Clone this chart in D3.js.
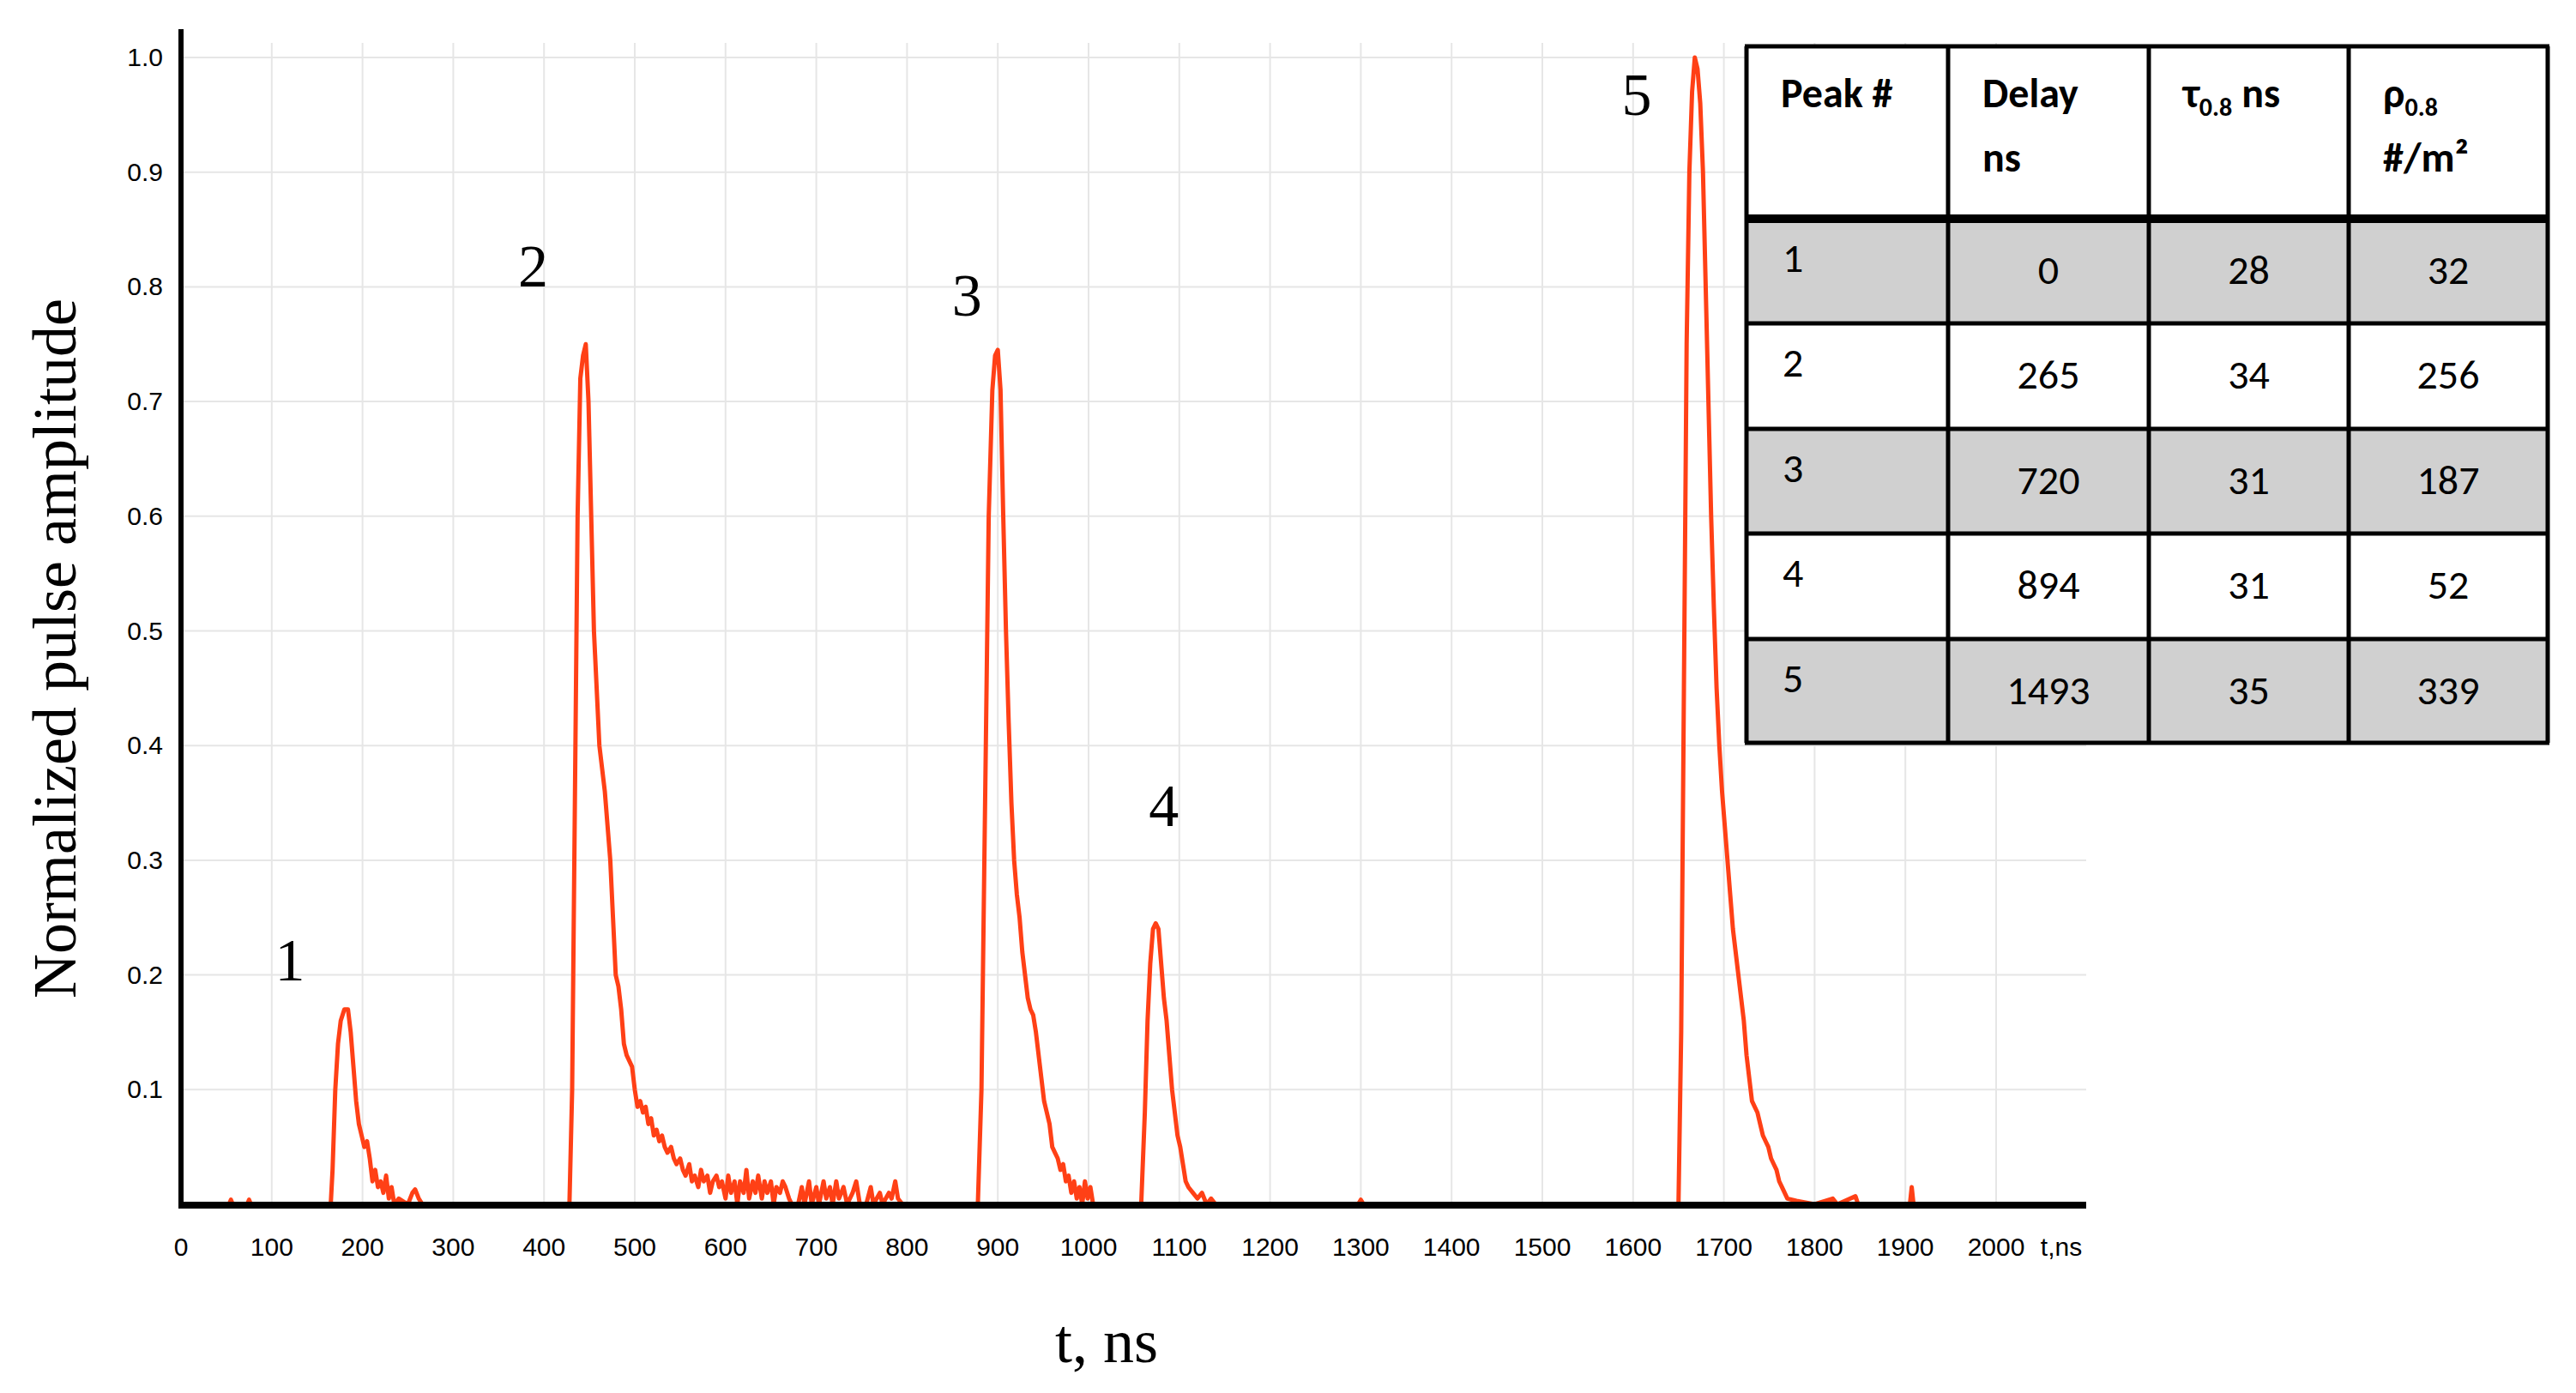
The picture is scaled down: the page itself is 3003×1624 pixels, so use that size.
<!DOCTYPE html>
<html>
<head>
<meta charset="utf-8">
<script src="https://cdn.jsdelivr.net/npm/d3@7"></script>
<style>
body { margin: 0; background: #fff; }
</style>
</head>
<body>
<svg></svg>
<script>
const width = 3003;
const height = 1624;

// pulse trace: [t ns, amplitude]
const pulse = [
  [0,0],[53,0],[55,0.004],[57,0],[73,0],[75,0.004],[77,0],
  [165,0],[167,0.03],[170,0.10],[173,0.14],[176,0.16],[180,0.17],[184,0.17],[187,0.15],[190,0.12],[193,0.09],[196,0.07],[199,0.06],[202,0.05],[205,0.055],[208,0.04],[211,0.02],[214,0.03],[217,0.015],[220,0.02],[223,0.01],[226,0.025],[229,0.005],[232,0.015],[235,0],[240,0.005],[250,0],[255,0.01],[258,0.013],[262,0.005],[266,0],
  [428,0],[431,0.1],[434,0.35],[437,0.6],[440,0.72],[443,0.74],[446,0.75],[449,0.70],[452,0.6],[455,0.5],[458,0.45],[461,0.40],[464,0.38],[467,0.36],[470,0.33],[473,0.30],[476,0.25],[479,0.20],[482,0.19],[485,0.17],[488,0.14],[491,0.13],[494,0.125],[497,0.12],[500,0.10],[503,0.085],[506,0.09],[509,0.08],[512,0.085],[515,0.07],[518,0.075],[521,0.06],[524,0.065],[527,0.055],[530,0.06],[533,0.05],[536,0.045],[540,0.05],[543,0.04],[546,0.035],[550,0.04],[553,0.03],[556,0.025],[560,0.035],[563,0.02],[566,0.025],[570,0.015],[573,0.03],[576,0.02],[580,0.025],[583,0.01],[586,0.02],[590,0.025],[593,0.015],[596,0.02],[600,0.005],[603,0.025],[606,0.01],[610,0.02],[613,0],[616,0.02],[620,0.01],[623,0.03],[626,0.005],[630,0.02],[633,0.01],[636,0.025],[640,0.005],[643,0.02],[646,0.01],[650,0.02],[653,0],[656,0.015],[660,0.01],[663,0.02],[666,0.015],[670,0.005],[673,0],[680,0],[684,0.015],[687,0],[692,0.02],[695,0],[700,0.015],[703,0],[708,0.02],[711,0.005],[715,0.015],[718,0],[722,0.02],[725,0.005],[730,0.015],[734,0],[740,0.01],[744,0.02],[748,0],[755,0],[760,0.015],[763,0],[770,0.01],[773,0],[780,0.01],[783,0.005],[787,0.02],[790,0.005],[795,0],
  [878,0],[882,0.1],[886,0.35],[890,0.6],[894,0.71],[897,0.74],[900,0.745],[903,0.71],[906,0.6],[909,0.5],[912,0.42],[915,0.35],[918,0.3],[921,0.27],[924,0.25],[927,0.22],[930,0.2],[933,0.18],[936,0.17],[939,0.165],[942,0.15],[945,0.13],[948,0.11],[951,0.09],[954,0.08],[957,0.07],[960,0.05],[963,0.045],[966,0.04],[969,0.03],[972,0.035],[975,0.02],[978,0.025],[981,0.01],[984,0.02],[987,0.005],[990,0.015],[993,0],[996,0.02],[999,0.005],[1002,0.015],[1005,0],
  [1058,0],[1062,0.08],[1065,0.16],[1068,0.21],[1071,0.24],[1074,0.245],[1077,0.24],[1080,0.21],[1083,0.18],[1086,0.16],[1089,0.13],[1092,0.10],[1095,0.08],[1098,0.06],[1101,0.05],[1104,0.035],[1107,0.02],[1110,0.015],[1115,0.01],[1120,0.005],[1125,0.01],[1130,0],[1135,0.005],[1140,0],
  [1297,0],[1300,0.004],[1303,0],
  [1650,0],[1653,0.15],[1656,0.45],[1659,0.75],[1662,0.9],[1665,0.97],[1668,1.0],[1671,0.99],[1674,0.96],[1677,0.9],[1680,0.8],[1683,0.7],[1686,0.6],[1689,0.52],[1692,0.45],[1695,0.4],[1698,0.36],[1701,0.33],[1704,0.3],[1707,0.27],[1710,0.24],[1713,0.22],[1716,0.2],[1719,0.18],[1722,0.16],[1725,0.13],[1728,0.11],[1731,0.09],[1734,0.085],[1737,0.08],[1740,0.07],[1743,0.06],[1746,0.055],[1749,0.05],[1752,0.04],[1755,0.035],[1758,0.03],[1761,0.02],[1764,0.015],[1767,0.01],[1770,0.005],[1780,0.003],[1800,0],[1820,0.005],[1825,0],[1845,0.007],[1848,0],[1905,0],[1907,0.015],[1909,0],[2000,0]
];

const peakLabels = [
  { n: "1", t: 120, v: 0.195 },
  { n: "2", t: 388, v: 0.8 },
  { n: "3", t: 866, v: 0.775 },
  { n: "4", t: 1083, v: 0.33 },
  { n: "5", t: 1604, v: 0.95 }
];

const xTicks = d3.range(0, 2001, 100);
const yTicks = [0.1, 0.2, 0.3, 0.4, 0.5, 0.6, 0.7, 0.8, 0.9, 1.0];

const tableHead = ["Peak #", "Delay ns", "tau", "rho"];
const tableRows = [
  ["1", "0", "28", "32"],
  ["2", "265", "34", "256"],
  ["3", "720", "31", "187"],
  ["4", "894", "31", "52"],
  ["5", "1493", "35", "339"]
];

const svg = d3.select("svg")
    .attr("width", width)
    .attr("height", height);

const x = d3.scaleLinear().domain([0, 2000]).range([211, 2327]);
const y = d3.scaleLinear().domain([0, 1]).range([1404, 67]);
const xEnd = 2432;

// grid
svg.append("g").selectAll("line").data(xTicks.slice(1)).enter().append("line")
    .attr("x1", d => x(d)).attr("x2", d => x(d))
    .attr("y1", 50).attr("y2", 1404)
    .attr("stroke", "#e6e6e6").attr("stroke-width", 2);
svg.append("g").selectAll("line").data(yTicks).enter().append("line")
    .attr("x1", 211).attr("x2", xEnd)
    .attr("y1", d => y(d)).attr("y2", d => y(d))
    .attr("stroke", "#e6e6e6").attr("stroke-width", 2);

// trace
svg.append("path")
    .datum(pulse)
    .attr("fill", "none")
    .attr("stroke", "#ff4016")
    .attr("stroke-width", 5)
    .attr("stroke-linejoin", "round")
    .attr("d", d3.line().x(d => x(d[0])).y(d => y(d[1])));

// axes lines
svg.append("line").attr("x1", 211).attr("x2", 211).attr("y1", 34).attr("y2", 1408)
    .attr("stroke", "#000").attr("stroke-width", 6);
svg.append("line").attr("x1", 208).attr("x2", xEnd).attr("y1", 1405).attr("y2", 1405)
    .attr("stroke", "#000").attr("stroke-width", 8);

// tick labels
svg.append("g").selectAll("text").data(yTicks).enter().append("text")
    .attr("x", 190).attr("y", d => y(d) + 10)
    .attr("text-anchor", "end")
    .attr("font-family", "Liberation Sans, Arial, sans-serif")
    .attr("font-size", 30)
    .text(d => d.toFixed(1));
svg.append("g").selectAll("text").data(xTicks).enter().append("text")
    .attr("x", d => x(d)).attr("y", 1464)
    .attr("text-anchor", "middle")
    .attr("font-family", "Liberation Sans, Arial, sans-serif")
    .attr("font-size", 30)
    .text(d => d);
svg.append("text").attr("x", 2403).attr("y", 1464)
    .attr("text-anchor", "middle")
    .attr("font-family", "Liberation Sans, Arial, sans-serif")
    .attr("font-size", 30).text("t,ns");

// axis titles
svg.append("text")
    .attr("transform", "translate(88,756) rotate(-90)")
    .attr("text-anchor", "middle")
    .attr("font-family", "Liberation Serif, Times New Roman, serif")
    .attr("font-size", 72)
    .text("Normalized pulse amplitude");
svg.append("text")
    .attr("x", 1290).attr("y", 1588)
    .attr("text-anchor", "middle")
    .attr("font-family", "Liberation Serif, Times New Roman, serif")
    .attr("font-size", 72)
    .text("t, ns");

// peak numbers
svg.append("g").selectAll("text").data(peakLabels).enter().append("text")
    .attr("x", d => x(d.t)).attr("y", d => y(d.v))
    .attr("text-anchor", "middle")
    .attr("font-family", "Liberation Serif, Times New Roman, serif")
    .attr("font-size", 70)
    .text(d => d.n);

// table
const colX = [2036, 2271, 2505, 2738, 2970];
const rowY = [54, 255, 377, 500, 622, 745, 866];
const tfont = "Carlito, Open Sans, sans-serif";
const tbl = svg.append("g");

tableRows.forEach((r, i) => {
  tbl.append("rect")
      .attr("x", colX[0]).attr("y", rowY[i + 1])
      .attr("width", colX[4] - colX[0]).attr("height", rowY[i + 2] - rowY[i + 1])
      .attr("fill", i % 2 === 0 ? "#d0d0d0" : "#fff");
  r.forEach((c, j) => {
    tbl.append("text")
        .attr("x", j === 0 ? colX[0] + 42 : (colX[j] + colX[j + 1]) / 2)
        .attr("y", j === 0 ? rowY[i + 1] + 62 : rowY[i + 1] + 76)
        .attr("text-anchor", j === 0 ? "start" : "middle")
        .attr("font-family", tfont).attr("font-size", 48)
        .text(c);
  });
});
tbl.append("rect").attr("x", colX[0]).attr("y", rowY[0])
    .attr("width", colX[4] - colX[0]).attr("height", rowY[1] - rowY[0]).attr("fill", "#fff");

// header
const hs = { "font-family": tfont, "font-size": 48, "font-weight": "bold" };
function head(xp, yp, txt) {
  const t = tbl.append("text").attr("x", xp).attr("y", yp);
  Object.entries(hs).forEach(([k, v]) => t.attr(k, v));
  return t.text(txt);
}
head(colX[0] + 40, 125, "Peak #");
head(colX[1] + 40, 125, "Delay");
head(colX[1] + 40, 200, "ns");
const tau = head(colX[2] + 40, 125, "");
tau.append("tspan").text("τ");
tau.append("tspan").attr("font-size", 30).attr("dy", 10).text("0.8");
tau.append("tspan").attr("dy", -10).text(" ns");
const rho = head(colX[3] + 40, 125, "");
rho.append("tspan").text("ρ");
rho.append("tspan").attr("font-size", 30).attr("dy", 10).text("0.8");
head(colX[3] + 40, 200, "#/m²");

// table borders
colX.forEach(cx => tbl.append("line").attr("x1", cx).attr("x2", cx)
    .attr("y1", rowY[0]).attr("y2", rowY[6]).attr("stroke", "#000").attr("stroke-width", 5));
rowY.forEach((ry, i) => tbl.append("line").attr("x1", colX[0] - 2).attr("x2", colX[4] + 2)
    .attr("y1", ry).attr("y2", ry).attr("stroke", "#000").attr("stroke-width", i === 1 ? 10 : 5));
</script>
</body>
</html>
